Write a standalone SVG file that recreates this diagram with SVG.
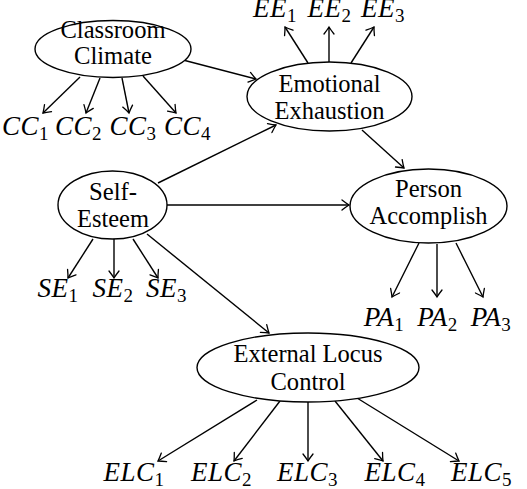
<svg xmlns="http://www.w3.org/2000/svg" width="527" height="489" viewBox="0 0 527 489">
<defs>
<marker id="arr" viewBox="-8 -6 10 12" markerWidth="10" markerHeight="12" refX="0" refY="0" orient="auto" markerUnits="userSpaceOnUse">
<path d="M-7,-5 Q-2.5,-1.5 0,0 Q-2.5,1.5 -7,5" fill="none" stroke="#000" stroke-width="1.3" stroke-linecap="round"/>
</marker>
</defs>
<g id="connectors" stroke="#000" stroke-width="1.4" marker-end="url(#arr)">
<line x1="183" y1="60" x2="256" y2="79"/>
<line x1="158" y1="183" x2="276" y2="125"/>
<line x1="167" y1="205" x2="349" y2="205"/>
<line x1="362" y1="130" x2="404" y2="168"/>
<line x1="147" y1="234" x2="269" y2="333"/>
<line x1="80" y1="77" x2="43" y2="113"/>
<line x1="100" y1="78" x2="86" y2="113"/>
<line x1="122" y1="78" x2="129" y2="113"/>
<line x1="143" y1="76" x2="176" y2="113"/>
<line x1="308" y1="63" x2="285" y2="27"/>
<line x1="329" y1="63" x2="329" y2="27"/>
<line x1="351" y1="63" x2="374" y2="27"/>
<line x1="93" y1="239" x2="68" y2="278"/>
<line x1="114" y1="239" x2="114" y2="278"/>
<line x1="133" y1="239" x2="158" y2="278"/>
<line x1="419" y1="243" x2="392" y2="297"/>
<line x1="437" y1="244" x2="437" y2="297"/>
<line x1="456" y1="243" x2="483" y2="297"/>
<line x1="257" y1="400" x2="158" y2="461"/>
<line x1="280" y1="401" x2="234" y2="461"/>
<line x1="308" y1="402" x2="308" y2="461"/>
<line x1="335" y1="401" x2="383" y2="461"/>
<line x1="357" y1="398" x2="459" y2="461"/>
</g>
<g id="classroom">
<ellipse cx="113" cy="49" rx="78" ry="28.5" fill="#fff" stroke="#000" stroke-width="1.4"/>
<text x="113" y="38" font-family="Liberation Serif, Times New Roman, serif" font-size="24.5" text-anchor="middle" textLength="105" lengthAdjust="spacingAndGlyphs">Classroom</text>
<text x="113" y="64" font-family="Liberation Serif, Times New Roman, serif" font-size="24.5" text-anchor="middle" textLength="78" lengthAdjust="spacingAndGlyphs">Climate</text>
</g>
<g id="emotional">
<ellipse cx="329.5" cy="96.5" rx="82.5" ry="34.5" fill="#fff" stroke="#000" stroke-width="1.4"/>
<text x="329.5" y="92" font-family="Liberation Serif, Times New Roman, serif" font-size="24.5" text-anchor="middle" textLength="102" lengthAdjust="spacingAndGlyphs">Emotional</text>
<text x="329.5" y="119" font-family="Liberation Serif, Times New Roman, serif" font-size="24.5" text-anchor="middle" textLength="110" lengthAdjust="spacingAndGlyphs">Exhaustion</text>
</g>
<g id="self">
<ellipse cx="112.5" cy="205" rx="54.5" ry="34" fill="#fff" stroke="#000" stroke-width="1.4"/>
<text x="113" y="200" font-family="Liberation Serif, Times New Roman, serif" font-size="24.5" text-anchor="middle" textLength="48" lengthAdjust="spacingAndGlyphs">Self-</text>
<text x="113" y="227" font-family="Liberation Serif, Times New Roman, serif" font-size="24.5" text-anchor="middle" textLength="72" lengthAdjust="spacingAndGlyphs">Esteem</text>
</g>
<g id="person">
<ellipse cx="428.5" cy="206" rx="78.5" ry="37" fill="#fff" stroke="#000" stroke-width="1.4"/>
<text x="428.5" y="197" font-family="Liberation Serif, Times New Roman, serif" font-size="24.5" text-anchor="middle" textLength="67" lengthAdjust="spacingAndGlyphs">Person</text>
<text x="428.5" y="224" font-family="Liberation Serif, Times New Roman, serif" font-size="24.5" text-anchor="middle" textLength="118" lengthAdjust="spacingAndGlyphs">Accomplish</text>
</g>
<g id="external">
<ellipse cx="308" cy="367.5" rx="111" ry="34.5" fill="#fff" stroke="#000" stroke-width="1.4"/>
<text x="308" y="362" font-family="Liberation Serif, Times New Roman, serif" font-size="24.5" text-anchor="middle" textLength="149" lengthAdjust="spacingAndGlyphs">External Locus</text>
<text x="308" y="390" font-family="Liberation Serif, Times New Roman, serif" font-size="24.5" text-anchor="middle" textLength="75" lengthAdjust="spacingAndGlyphs">Control</text>
</g>
<g id="indicators">
<text x="25.5" y="135" font-family="Liberation Serif, Times New Roman, serif" font-size="27" font-style="italic" text-anchor="middle" letter-spacing="0.5">CC<tspan dy="5" font-size="19" font-style="normal">1</tspan></text>
<text x="78.5" y="135" font-family="Liberation Serif, Times New Roman, serif" font-size="27" font-style="italic" text-anchor="middle" letter-spacing="0.5">CC<tspan dy="5" font-size="19" font-style="normal">2</tspan></text>
<text x="133" y="135" font-family="Liberation Serif, Times New Roman, serif" font-size="27" font-style="italic" text-anchor="middle" letter-spacing="0.5">CC<tspan dy="5" font-size="19" font-style="normal">3</tspan></text>
<text x="187.5" y="135" font-family="Liberation Serif, Times New Roman, serif" font-size="27" font-style="italic" text-anchor="middle" letter-spacing="0.5">CC<tspan dy="5" font-size="19" font-style="normal">4</tspan></text>
<text x="275" y="17" font-family="Liberation Serif, Times New Roman, serif" font-size="27" font-style="italic" text-anchor="middle" letter-spacing="0.5">EE<tspan dy="5" font-size="19" font-style="normal">1</tspan></text>
<text x="329.5" y="17" font-family="Liberation Serif, Times New Roman, serif" font-size="27" font-style="italic" text-anchor="middle" letter-spacing="0.5">EE<tspan dy="5" font-size="19" font-style="normal">2</tspan></text>
<text x="383" y="17" font-family="Liberation Serif, Times New Roman, serif" font-size="27" font-style="italic" text-anchor="middle" letter-spacing="0.5">EE<tspan dy="5" font-size="19" font-style="normal">3</tspan></text>
<text x="58" y="297" font-family="Liberation Serif, Times New Roman, serif" font-size="27" font-style="italic" text-anchor="middle" letter-spacing="0.5">SE<tspan dy="5" font-size="19" font-style="normal">1</tspan></text>
<text x="113" y="297" font-family="Liberation Serif, Times New Roman, serif" font-size="27" font-style="italic" text-anchor="middle" letter-spacing="0.5">SE<tspan dy="5" font-size="19" font-style="normal">2</tspan></text>
<text x="166.5" y="297" font-family="Liberation Serif, Times New Roman, serif" font-size="27" font-style="italic" text-anchor="middle" letter-spacing="0.5">SE<tspan dy="5" font-size="19" font-style="normal">3</tspan></text>
<text x="384" y="326" font-family="Liberation Serif, Times New Roman, serif" font-size="27" font-style="italic" text-anchor="middle" letter-spacing="0.5">PA<tspan dy="5" font-size="19" font-style="normal">1</tspan></text>
<text x="437.5" y="326" font-family="Liberation Serif, Times New Roman, serif" font-size="27" font-style="italic" text-anchor="middle" letter-spacing="0.5">PA<tspan dy="5" font-size="19" font-style="normal">2</tspan></text>
<text x="491" y="326" font-family="Liberation Serif, Times New Roman, serif" font-size="27" font-style="italic" text-anchor="middle" letter-spacing="0.5">PA<tspan dy="5" font-size="19" font-style="normal">3</tspan></text>
<text x="134" y="481" font-family="Liberation Serif, Times New Roman, serif" font-size="27" font-style="italic" text-anchor="middle" letter-spacing="0.5">ELC<tspan dy="5" font-size="19" font-style="normal">1</tspan></text>
<text x="221.5" y="481" font-family="Liberation Serif, Times New Roman, serif" font-size="27" font-style="italic" text-anchor="middle" letter-spacing="0.5">ELC<tspan dy="5" font-size="19" font-style="normal">2</tspan></text>
<text x="307.5" y="481" font-family="Liberation Serif, Times New Roman, serif" font-size="27" font-style="italic" text-anchor="middle" letter-spacing="0.5">ELC<tspan dy="5" font-size="19" font-style="normal">3</tspan></text>
<text x="395" y="481" font-family="Liberation Serif, Times New Roman, serif" font-size="27" font-style="italic" text-anchor="middle" letter-spacing="0.5">ELC<tspan dy="5" font-size="19" font-style="normal">4</tspan></text>
<text x="481.5" y="481" font-family="Liberation Serif, Times New Roman, serif" font-size="27" font-style="italic" text-anchor="middle" letter-spacing="0.5">ELC<tspan dy="5" font-size="19" font-style="normal">5</tspan></text>
</g>
</svg>
